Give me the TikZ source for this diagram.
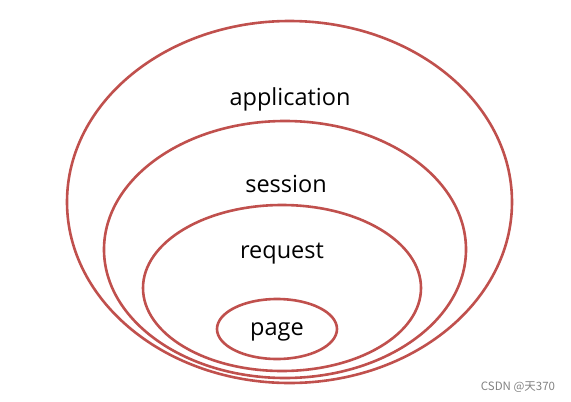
\documentclass[tikz,border=0pt]{standalone}
\usepackage{fontspec}
\setmainfont{Open Sans}
\newfontfamily\cjkfont{Noto Sans CJK SC}
\usepackage{tikz}
\usepackage{xcolor}
\definecolor{ringred}{RGB}{192, 80, 77}
\definecolor{markgray}{RGB}{130, 130, 130}

\begin{document}
\begin{tikzpicture}[x=1pt, y=-1pt]
  \useasboundingbox (0,0) rectangle (571,402);
  \tikzset{ring/.style={draw=ringred, line width=2.6pt},
           scopelabel/.style={font=\fontsize{23.5}{27}\selectfont, text=black}}

  % nested scopes
  \draw[ring] (289.5,202) ellipse (222.5 and 181);
  \draw[ring] (285,249.5) ellipse (181 and 128.5);
  \draw[ring] (282,288) ellipse (139 and 83);
  \draw[ring] (277,329) ellipse (60 and 30);

  % labels
  \node[scopelabel] (app) at (290,99) {application};
  \node[scopelabel] (sess) at (286,184) {session};
  \node[scopelabel] (req) at (282,254) {request};
  \node[scopelabel] (pg) at (277,332) {page};

  % watermark
  \node[text=markgray, font=\cjkfont\fontsize{11.5}{13}\selectfont] (mark) at (518,387) {CSDN @天370};
\end{tikzpicture}
\end{document}
